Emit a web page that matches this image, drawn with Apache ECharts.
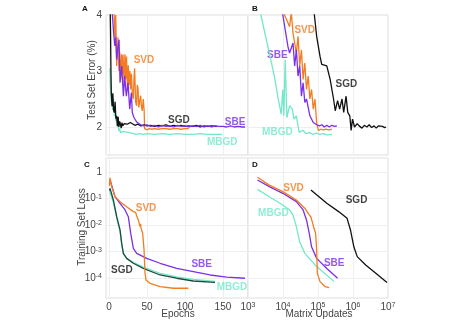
<!DOCTYPE html>
<html><head><meta charset="utf-8">
<script src="https://cdn.jsdelivr.net/npm/echarts@6/dist/echarts.min.js"></script>
<style>html,body{margin:0;padding:0;background:#fff}#c{width:474px;height:325px}</style>
</head><body><div id="c"></div>
<script>
// ---------- Panel A: test set error (%) vs epochs ----------
const svdA = [[4.5,4.6],[6.6,4.05],[8,3.6],[8.8,4.0],[10.1,3.09],[11.8,3.6],[13,3.0],[14,3.35],[15.3,2.85],[16.5,3.3],[17.5,2.95],[18.5,3.29],[19.7,2.79],[21,3.3],[21.9,2.85],[23,3.26],[24.1,2.7],[25.3,3.1],[26.3,2.75],[27.5,3.0],[28.4,2.67],[29.5,2.95],[30.6,2.6],[31.9,2.5],[33,2.9],[33.7,3.05],[35,2.45],[36.3,2.38],[37.2,2.75],[38.1,2.7],[39.2,2.35],[40.3,2.32],[41.6,2.56],[42.8,2.35],[43.8,2.29],[45.1,2.5],[46.2,2.3],[46.9,1.97],[48,1.94],[50,1.95],[53,1.97],[56,1.96],[60,1.97],[65,1.96],[70,1.97],[75,1.97],[80,1.96],[85,1.97],[90,1.97],[95,1.96],[100,1.97],[105,1.97]];
const sbeA = [[2.2,4.5],[4.4,4.0],[6,3.7],[7.5,3.45],[8.8,3.6],[10,3.2],[11.5,3.4],[13.2,3.56],[14.5,2.79],[16.7,3.09],[18.9,2.55],[20.6,2.91],[22.8,2.55],[25,2.79],[27.2,2.32],[29.4,2.61],[30.6,2.26],[32.8,2.17],[35,2.12],[37.2,2.08],[41.6,2.04],[45,2.02],[50,2.04],[55,2.01],[60,2.03],[65,2.0],[70,2.03],[75,2.01],[80,2.02],[85,2.0],[90,2.03],[95,2.01],[100,2.02],[105,2.0],[110,2.02],[115,2.01],[120,2.03],[125,2.0],[130,2.02],[135,2.0],[140,2.02],[145,2.01],[150,2.01],[155,2.0],[160,2.02],[165,2.0],[170,2.01],[175,2.0],[179,2.0]];
const sgdA = [[1,4.5],[2,3.7],[2.5,3.0],[3,2.6],[4,2.37],[5,2.6],[6,2.3],[7,2.26],[8,2.45],[9,2.15],[10,2.2],[11,2.02],[12,2.18],[13,2.0],[14,2.1],[15,2.05],[16,1.98],[17,2.08],[18,2.02],[20,2.06],[22,2.03],[24,2.05],[26,2.04],[28,2.08],[30,2.05],[34,2.03],[38,2.05],[42,2.02],[46,2.04],[50,2.02],[55,2.03],[60,2.01],[65,2.03],[70,2.02],[75,2.04],[80,2.01],[85,2.03],[90,2.02],[95,2.03],[100,2.01],[105,2.02],[110,2.01],[115,2.03],[120,2.0],[125,2.02],[130,2.01],[135,2.02],[142,2.01]];
const mbgdA = [[1,3.05],[2,2.7],[3,2.45],[4,2.4],[5,2.3],[6,2.5],[7,2.2],[8,2.25],[9,2.1],[10,2.17],[11,2.0],[12,2.05],[13,1.93],[14,1.97],[15,1.9],[16,1.93],[17,1.89],[19,1.92],[21,1.89],[23,1.91],[25,1.88],[30,1.89],[35,1.87],[40,1.88],[45,1.87],[50,1.88],[60,1.87],[70,1.88],[80,1.87],[90,1.88],[100,1.87],[110,1.87],[120,1.88],[130,1.87],[140,1.87],[149,1.87]];

// ---------- Panel B: test set error (%) vs matrix updates ----------
const svdB = [[10000,4.6],[11050,4.0],[13000,3.9],[15430,3.79],[17250,4.05],[19280,3.68],[21500,3.5],[24080,3.32],[26900,3.62],[30080,3.09],[33630,3.38],[37560,2.85],[41990,3.14],[46950,2.67],[52480,2.91],[58640,2.5],[65500,2.67],[73240,2.32],[81850,2.5],[91500,2.08],[102300,1.94],[120000,1.96],[140000,1.95],[170000,1.96],[200000,1.95],[249000,1.96]];
const sbeB = [[9000,4.5],[9890,4.0],[13800,3.44],[15430,3.32],[19280,3.5],[21540,3.09],[24080,3.38],[26900,2.91],[30080,3.09],[33630,2.55],[37560,2.79],[41990,2.44],[46950,2.5],[58640,2.2],[73240,2.08],[91500,2.04],[110000,2.02],[130000,2.04],[150000,2.0],[180000,2.03],[210000,2.0],[250000,2.03],[300000,2.01],[347700,2.02]];
const sgdB = [[70000,4.3],[91500,3.62],[114300,3.26],[127700,3.12],[178300,3.09],[222700,2.85],[278000,2.5],[311000,2.29],[363000,2.47],[415000,2.32],[485000,2.5],[542000,2.26],[634000,2.55],[708000,2.26],[809000,2.2],[885000,1.94],[968000,2.14],[1104000,2.0],[1321000,2.06],[1500000,2.02],[1800000,1.98],[2100000,2.03],[2500000,2.0],[2900000,2.04],[3400000,1.99],[4000000,2.02],[4600000,1.98],[5300000,2.02],[6000000,1.99],[7000000,2.01],[8000000,1.99],[8750000,2.0]];
const mbgdB = [[2000,4.3],[2330,4.0],[4060,3.32],[5670,2.91],[7080,2.55],[8850,2.23],[9890,2.67],[10570,2.2],[11550,3.2],[12920,2.17],[15430,2.38],[18440,2.32],[20600,2.14],[24080,2.2],[28770,1.91],[37560,1.94],[45000,1.88],[58640,1.9],[70000,1.87],[91500,1.89],[110000,1.87],[142800,1.88],[180000,1.86],[249000,1.87]];

// ---------- Panel C: training set loss vs epochs ----------
const svdC = [[0.5,0.3],[1.3,0.6],[3.5,0.28],[7.9,0.117],[14.5,0.076],[23.2,0.049],[32,0.032],[34,0.028],[35,0.03],[36.4,0.022],[37.5,0.024],[38.6,0.0155],[39.5,0.018],[40.8,0.0087],[41.5,0.011],[42.1,0.0075],[44.3,0.0049],[46.1,0.00114],[47.4,0.00015],[48.7,0.000084],[54,0.000063],[67.2,0.000047],[84.7,0.000041],[104.5,0.000041]];
const sbeC = [[0.5,0.35],[1.3,0.5],[7.9,0.117],[14.5,0.066],[21.1,0.037],[25.4,0.0206],[28.5,0.0049],[32,0.0013],[36.4,0.00085],[49.6,0.00055],[67.2,0.00036],[89.1,0.00023],[111,0.000174],[133,0.00013],[155,0.000107],[179,0.000098]];
const sgdC = [[0.5,0.2],[1.3,0.24],[5.7,0.088],[10.1,0.0206],[14.5,0.0065],[16.7,0.002],[18.9,0.00085],[23.2,0.00055],[32,0.00036],[45.1,0.00023],[67.2,0.00013],[89.1,0.000098],[111,0.000077],[139.6,0.000069]];
const mbgdC = [[0.5,0.2],[1.3,0.17],[5.7,0.07],[10.1,0.018],[14.5,0.0055],[16.7,0.0018],[18.9,0.0008],[23.2,0.00055],[32,0.00039],[45.1,0.00026],[67.2,0.00015],[89.1,0.00011],[111,0.000088],[139.6,0.000075]];

// ---------- Panel D: training set loss vs matrix updates ----------
const svdD = [[1866,0.63],[4060,0.32],[9890,0.181],[24080,0.088],[41990,0.043],[56080,0.024],[62680,0.02],[65500,0.0178],[70000,0.012],[76560,0.0075],[80000,0.0065],[85550,0.0049],[91500,0.00114],[95650,0.00015],[114300,0.000073],[159600,0.000047],[208300,0.000043]];
const sbeD = [[1866,0.5],[4060,0.28],[9890,0.157],[24080,0.076],[37560,0.037],[46950,0.0155],[56080,0.0049],[65500,0.0015],[91500,0.00055],[178300,0.00023],[363000,0.000098]];
const sgdD = [[62680,0.21],[178300,0.066],[388200,0.032],[677600,0.0178],[846400,0.0065],[1057000,0.0015],[1321000,0.00064],[2302000,0.00031],[4487000,0.00015],[9355000,0.000067]];
const mbgdD = [[1866,0.22],[4060,0.117],[9890,0.057],[15430,0.037],[19280,0.024],[24080,0.0087],[30080,0.0023],[41990,0.00085],[91500,0.00027],[291000,0.000073]];

// ---------- tick labels / ranges ----------
const epochTicks = [0, 50, 100, 150];
const errorTicks = [2, 3, 4];
const lossExponents = [0, -1, -2, -3, -4];
const updateExponents = [3, 4, 5, 6, 7];

// series label anchors (data coords)
const labelsA = [['SVD',46,3.2,'svd'],['SGD',92,2.12,'sgd'],['SBE',166,2.09,'sbe'],['MBGD',149,1.73,'mbgd']];
const labelsB = [['SVD',41700,3.73,'svd'],['SBE',6900,3.29,'sbe'],['SGD',646000,2.76,'sgd'],['MBGD',6900,1.91,'mbgd']];
const labelsC = [['SVD',48.7,0.0437,'svd'],['SBE',122,0.00034,'sbe'],['SGD',17,0.0002,'sgd'],['MBGD',162,0.000046,'mbgd']];
const labelsD = [['SVD',20000,0.25,'svd'],['SGD',1260000,0.088,'sgd'],['MBGD',5300,0.028,'mbgd'],['SBE',290000,0.00037,'sbe']];

const COL = {svd:'#f47c20', sbe:'#7c2fe6', sgd:'#111111', mbgd:'#72e8c9'};
const FONT = 'Liberation Sans, Arial, Helvetica, sans-serif';
function pow10Label(v){
  const e = Math.round(Math.log10(v));
  if (e === 0) return '1';
  return '10{s|' + e + '}';
}
const supRich = {s:{fontSize:7, color:'#444', fontFamily:FONT, verticalAlign:'top', lineHeight:7, padding:[0,0,5,0]}};

const chart = echarts.init(document.getElementById('c'), null, {renderer:'canvas'});

const grids = [
  {left:106, top:15, width:142, height:140},
  {left:248, top:15, width:140, height:140},
  {left:106, top:158, width:142, height:140},
  {left:248, top:158, width:140, height:140}
].map(g => Object.assign(g, {show:true, borderColor:'#dcdcdc', borderWidth:1, backgroundColor:'#fff', containLabel:false}));

const split = {show:true, lineStyle:{color:'#efefef', width:1}};
const lbl = {fontSize:10, color:'#444', fontFamily:FONT};

function epochAxis(gi, showLabels){
  return {gridIndex:gi, type:'value', min:-4, max:183, splitNumber:4,
    axisLine:{show:false}, axisTick:{show:false}, splitLine:split,
    axisLabel:Object.assign({show:showLabels, margin:4, showMinLabel:false, showMaxLabel:false,
      formatter: v => epochTicks.indexOf(v) >= 0 ? String(v) : ''}, lbl)};
}
function updateAxis(gi, showLabels){
  return {gridIndex:gi, type:'log', logBase:10, min:Math.pow(10,updateExponents[0]), max:Math.pow(10,updateExponents[updateExponents.length-1]),
    axisLine:{show:false}, axisTick:{show:false}, splitLine:split,
    axisLabel:Object.assign({show:showLabels, margin:4, showMinLabel:true, showMaxLabel:true, formatter: pow10Label, rich:supRich}, lbl)};
}
function errorAxis(gi, showLabels){
  return {gridIndex:gi, type:'value', min:1.5, max:4, splitNumber:3,
    axisLine:{show:false}, axisTick:{show:false}, splitLine:split,
    axisLabel:Object.assign({show:showLabels, margin:4, showMinLabel:false, showMaxLabel:true,
      formatter: v => errorTicks.indexOf(v) >= 0 ? String(v) : ''}, lbl)};
}
function lossAxis(gi, showLabels){
  return {gridIndex:gi, type:'log', logBase:10, min:1.76e-5, max:3.37,
    axisLine:{show:false}, axisTick:{show:false}, splitLine:split,
    axisLabel:Object.assign({show:showLabels, margin:4, showMinLabel:false, showMaxLabel:false, rich:supRich,
      formatter: v => { const e = Math.round(Math.log10(v)); return lossExponents.indexOf(e) >= 0 ? pow10Label(v) : ''; }}, lbl)};
}

function line(name, data, gi, key, color){
  return {name, type:'line', xAxisIndex:gi, yAxisIndex:gi, data, showSymbol:false, symbol:'none',
    lineStyle:{color: color || COL[key], width:1.3}, silent:true, animation:false, clip:true};
}
function labels(arr, gi){
  return {type:'scatter', xAxisIndex:gi, yAxisIndex:gi, symbolSize:0, silent:true, animation:false,
    data: arr.map(a => ({value:[a[1], a[2]], name:a[0],
      label:{show:true, position:'inside', formatter:a[0], color:COL[a[3]], fontWeight:'bold', fontSize:10, fontFamily:FONT}}))};
}

const option = {
  animation:false,
  backgroundColor:'#fff',
  grid: grids,
  xAxis:[epochAxis(0,false), updateAxis(1,false), epochAxis(2,true), updateAxis(3,true)],
  yAxis:[errorAxis(0,true), errorAxis(1,false), lossAxis(2,true), lossAxis(3,false)],
  series:[
    line('MBGD', mbgdA, 0, 'mbgd'), line('SVD', svdA, 0, 'svd'), line('SGD', sgdA, 0, 'sgd'), line('SBE', sbeA, 0, 'sbe'),
    line('MBGD', mbgdB, 1, 'mbgd'), line('SGD', sgdB, 1, 'sgd'), line('SVD', svdB, 1, 'svd'), line('SBE', sbeB, 1, 'sbe'),
    line('MBGD', mbgdC, 2, 'mbgd'), line('SGD', sgdC, 2, 'sgd', '#1f4a3d'), line('SBE', sbeC, 2, 'sbe'), line('SVD', svdC, 2, 'svd'),
    line('MBGD', mbgdD, 3, 'mbgd'), line('SBE', sbeD, 3, 'sbe'), line('SVD', svdD, 3, 'svd'), line('SGD', sgdD, 3, 'sgd'),
    labels(labelsA,0), labels(labelsB,1), labels(labelsC,2), labels(labelsD,3)
  ],
  graphic:[
    {type:'text', left:82, top:5, style:{text:'A', font:'bold 8px '+FONT, fill:'#111'}},
    {type:'text', left:252, top:5, style:{text:'B', font:'bold 8px '+FONT, fill:'#111'}},
    {type:'text', left:84, top:161, style:{text:'C', font:'bold 8px '+FONT, fill:'#111'}},
    {type:'text', left:252, top:161, style:{text:'D', font:'bold 8px '+FONT, fill:'#111'}},
    {type:'text', x:92, y:80, rotation:Math.PI/2, style:{text:'Test Set Error (%)', font:'10px '+FONT, fill:'#444', align:'center', verticalAlign:'middle'}},
    {type:'text', x:82, y:227, rotation:Math.PI/2, style:{text:'Training Set Loss', font:'10px '+FONT, fill:'#444', align:'center', verticalAlign:'middle'}},
    {type:'text', x:178, y:314, style:{text:'Epochs', font:'10px '+FONT, fill:'#444', align:'center', verticalAlign:'middle'}},
    {type:'text', x:319, y:314, style:{text:'Matrix Updates', font:'10px '+FONT, fill:'#444', align:'center', verticalAlign:'middle'}}
  ]
};
chart.setOption(option);
</script>
</body></html>
